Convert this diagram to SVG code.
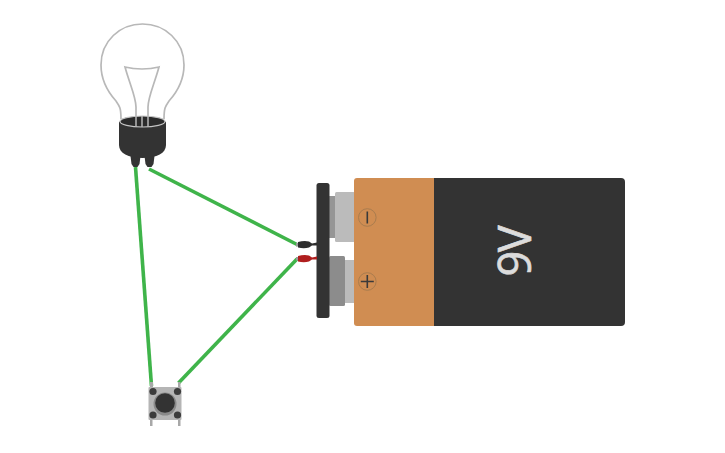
<svg xmlns="http://www.w3.org/2000/svg" width="725" height="453" viewBox="0 0 725 453">
<style>
.wire{fill:none;stroke:#3fb44a;stroke-width:3.6;stroke-linecap:butt}
.glass{fill:none;stroke:#b8b8b8;stroke-width:1.7}
.dark{fill:#333333}
.sym{fill:none;stroke:#3a3a3a;stroke-width:1.6}
.ring{fill:none;stroke:#a97c4e;stroke-width:1}
.hole{fill:#3c3c3c}
.leg{fill:#a8a8a8}
.tip{fill:#999999}
</style>
<rect width="725" height="453" fill="#ffffff"/>
<g id="connectors">
<path class="wire" d="M135.500 167L151.500 386"/>
<path class="wire" d="M149 169L298 245"/>
<path class="wire" d="M297 259L178.500 383"/>
</g>
<g id="bulb">
<path class="glass" d="M121 119C121 108 119.500 106 116 101C107 91 101 80 101 65C101 41 120 24 142.500 24C165 24 184 41 184 65C184 80 178 91 169 101C165.500 106 164 108 164 119"/>
<path class="glass" d="M136 127V107C136 97 130 85 125 67C135 69.500 149 69.500 159 67C154 85 148 97 148 107V127"/>
<path class="dark" d="M119 122C119 120 166 120 166 122V145C166 153 157 158 142.500 158C128 158 119 153 119 145Z"/>
<ellipse cx="142.500" cy="121.500" rx="22.500" ry="5.500" fill="#2b2b2b" stroke="#c4c4c4" stroke-width="1.200"/>
<path d="M136 116V127M142 116V127M148 116V127" stroke="#b8b8b8" stroke-width="1.500" fill="none"/>
<path class="dark" d="M130.500 156H140.500L139.500 164L137.500 167H133.500L131.500 164Z"/>
<path class="dark" d="M144.500 156H154.500L153.500 164L151.500 167H147.500L145.500 164Z"/>
</g>
<g id="battery">
<rect x="329" y="196" width="7" height="42" fill="#959595"/>
<rect x="335" y="192" width="20" height="50" rx="1.500" fill="#bbbbbb"/>
<rect x="344" y="260" width="11" height="43" fill="#bbbbbb"/>
<rect x="329" y="256" width="16" height="50" rx="1.500" fill="#8c8c8c"/>
<rect x="316.500" y="183" width="13" height="135" rx="2.500" fill="#333333"/>
<path d="M357 178H434V326H357Q354 326 354 323V181Q354 178 357 178Z" fill="#d08d52"/>
<path d="M434 178H621Q625 178 625 182V322Q625 326 621 326H434Z" fill="#333333"/>
<circle class="ring" cx="367.300" cy="217.500" r="8.800"/>
<path class="sym" d="M367.300 211.500V223.500"/>
<circle class="ring" cx="367.300" cy="281.500" r="8.800"/>
<path class="sym" d="M367.300 275V288M360.800 281.500H373.800"/>
<text transform="translate(531 276.500) rotate(-90)" font-family="'Open Sans',sans-serif" font-size="45" letter-spacing="-1.500" fill="#dcdcdc" stroke="#dcdcdc" stroke-width="0.700" stroke-linejoin="round">9V</text>
<rect x="296" y="243" width="3" height="3.500" class="tip"/>
<path d="M298 242Q304 240.500 309 241.500L312 243.500L317 242.500V245.500L312 245.500L309 247.500Q304 249 298 247.500Z" fill="#2e2e2e"/>
<rect x="296" y="257" width="3" height="3.500" class="tip"/>
<path d="M298 256Q304 254.500 309 255.500L312 257.500L317 256.500V259.500L312 259.500L309 261.500Q304 263 298 261.500Z" fill="#b01e1e"/>
</g>
<g id="pushbutton">
<path class="leg" d="M150 418H152.500V426H150ZM178 418H180.500V426H178ZM150 382H153V388H150ZM178 382H180.500V388H178Z"/>
<rect x="148.500" y="387" width="33" height="33" rx="1" fill="#b5b5b5"/>
<circle class="hole" cx="153" cy="391.500" r="3.600"/>
<circle class="hole" cx="177.500" cy="391.500" r="3.600"/>
<circle class="hole" cx="153" cy="415" r="3.600"/>
<circle class="hole" cx="177.500" cy="415" r="3.600"/>
<circle cx="165" cy="404" r="11.500" fill="#8a8a8a"/>
<circle cx="165" cy="403" r="9.800" fill="#333333"/>
</g>
</svg>
